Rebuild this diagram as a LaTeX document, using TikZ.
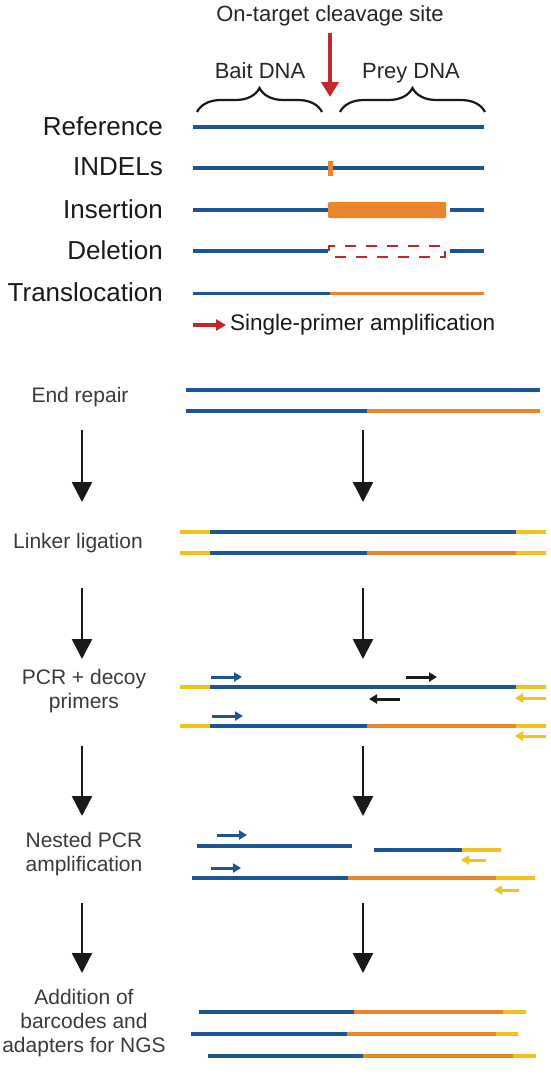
\documentclass[tikz,border=0pt]{standalone}
\usepackage{fontspec}
\setmainfont{Liberation Sans}
\usetikzlibrary{arrows.meta, decorations.pathreplacing, positioning}
\definecolor{dnablue}{RGB}{28,84,148}
\definecolor{dnaorange}{RGB}{234,133,42}
\definecolor{linkeryellow}{RGB}{240,196,30}
\definecolor{cutred}{RGB}{196,38,44}
\definecolor{labelgray}{RGB}{58,58,58}

\begin{document}
\begin{tikzpicture}[x=1pt, y=-1pt,
    rowlabel/.style={anchor=east, inner sep=0pt, text=black!90, font=\fontsize{26}{28}\selectfont},
    toplabel/.style={anchor=base, inner sep=0pt, text=black!85, font=\fontsize{22}{26}\selectfont},
    steplabel/.style={anchor=base, inner sep=0pt, align=center, text=labelgray, font=\fontsize{21}{24}\selectfont},
    bait/.style={dnablue, line width=3.5pt},
    prey/.style={dnaorange, line width=3.5pt},
    linker/.style={linkeryellow, line width=3.5pt},
    flow/.style={-{Triangle[length=20pt, width=20pt]}, line width=2.5pt, black!90},
    primer/.style={-{Triangle[length=8pt, width=9pt]}, line width=3pt},
    bracket/.style={decorate, decoration={brace, amplitude=24pt}, line width=2.2pt, black!90}]
    \useasboundingbox (0,0) rectangle (550,1081);

    % cleavage site and the two halves
    \node[toplabel] (cleav) at (330,22) {On-target cleavage site};
    \coordinate (cut) at (330,97);
    \draw[-{Triangle[length=15pt, width=17pt]}, cutred, line width=4pt, shorten <=6pt] (cleav) -- (cut);
    \node[toplabel] (baitlab) at (260,78) {Bait DNA};
    \node[toplabel] (preylab) at (411,78) {Prey DNA};
    \draw[bracket] (197,112) -- (322,112);
    \draw[bracket] (340,112) -- (485,112);

    % outcomes
    \node[rowlabel] (ref) at (163,126) {Reference};
    \node[rowlabel] (indel) at (163,167) {INDELs};
    \node[rowlabel] (ins) at (163,209) {Insertion};
    \node[rowlabel] (del) at (163,250) {Deletion};
    \node[rowlabel] (trans) at (163,292) {Translocation};

    \draw[bait] (193,127) -- (484,127);
    \draw[bait] (193,168) -- (484,168);
    \fill[dnaorange] (328,161) rectangle (333,176);
    \draw[bait] (193,210) -- (328,210);
    \fill[dnaorange, rounded corners=1pt] (328,202) rectangle (446,218);
    \draw[bait] (450,210) -- (484,210);
    \draw[bait] (193,251) -- (328,251);
    \draw[cutred, line width=2.6pt, dash pattern=on 11pt off 10pt] (329,251) -- (329,246) -- (445,246) -- (445,257) -- (333,257);
    \draw[bait] (450,251) -- (484,251);
    \draw[bait, line width=3pt] (193,293) -- (330,293);
    \draw[prey, line width=3pt] (330,293) -- (484,293);

    \coordinate (legA) at (193,325);
    \coordinate (legB) at (226,325);
    \draw[-{Triangle[length=10pt, width=11pt]}, cutred, line width=4pt] (legA) -- (legB);
    \node[anchor=west, inner sep=0pt, text=black!90, font=\fontsize{22.5}{26}\selectfont, right=4pt of legB] (legend) {Single-primer amplification};

    % workflow steps
    \node[steplabel] (repair) at (80,402) {End repair};
    \node[steplabel] (ligate) at (78,548) {Linker ligation};
    \node[steplabel] (pcr) at (84,708) {PCR + decoy\\primers};
    \node[steplabel] (nested) at (84,871) {Nested PCR\\amplification};
    \node[steplabel] (barcode) at (84,1052) {Addition of\\barcodes and\\adapters for NGS};

    \foreach \i/\s/\e in {1/430/502, 2/588/659, 3/746/816, 4/903/973} {
        \coordinate (L\i a) at (82,\s);
        \coordinate (L\i b) at (82,\e);
        \coordinate (R\i a) at (363,\s);
        \coordinate (R\i b) at (363,\e);
        \draw[flow] (L\i a) -- (L\i b);
        \draw[flow] (R\i a) -- (R\i b);
    }

    % end repair
    \draw[bait] (186,390) -- (540,390);
    \draw[bait] (186,411) -- (367,411);
    \draw[prey] (367,411) -- (540,411);

    % linker ligation and PCR
    \foreach \y/\z in {532/553, 687/726} {
        \draw[linker] (180,\y) -- (210,\y);
        \draw[bait] (210,\y) -- (516,\y);
        \draw[linker] (516,\y) -- (546,\y);
        \draw[linker] (180,\z) -- (210,\z);
        \draw[bait] (210,\z) -- (367,\z);
        \draw[prey] (367,\z) -- (516,\z);
        \draw[linker] (516,\z) -- (546,\z);
    }
    \draw[primer, dnablue] (211,677) -- (242,677);
    \draw[primer, dnablue] (212,716) -- (243,716);
    \draw[primer, black!90] (406,677) -- (437,677);
    \draw[primer, black!90] (400,699) -- (369,699);
    \draw[primer, linkeryellow] (546,698) -- (515,698);
    \draw[primer, linkeryellow] (546,736) -- (515,736);

    % nested PCR
    \draw[bait] (197,846) -- (352,846);
    \draw[bait] (374,850) -- (462,850);
    \draw[linker] (462,850) -- (501,850);
    \draw[bait] (192,878) -- (348,878);
    \draw[prey] (348,878) -- (496,878);
    \draw[linker] (496,878) -- (535,878);
    \draw[primer, dnablue] (217,835) -- (247,835);
    \draw[primer, dnablue] (211,868) -- (241,868);
    \draw[primer, linkeryellow] (486,860) -- (461,860);
    \draw[primer, linkeryellow] (519,890) -- (494,890);

    % barcodes and adapters
    \foreach \y/\a/\b/\c/\d in {1012/199/354/503/526, 1034/191/347/496/518, 1056/208/363/513/536} {
        \draw[bait] (\a,\y) -- (\b,\y);
        \draw[prey] (\b,\y) -- (\c,\y);
        \draw[linker] (\c,\y) -- (\d,\y);
    }
\end{tikzpicture}
\end{document}
